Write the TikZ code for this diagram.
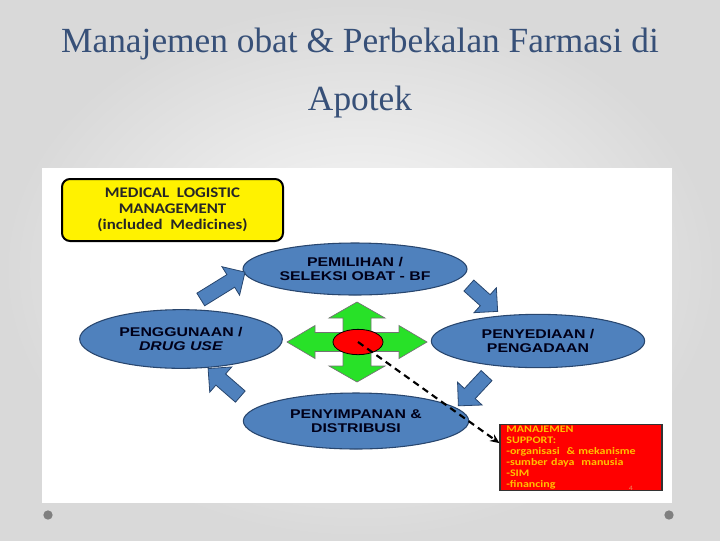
\documentclass[tikz,border=0pt]{standalone}
\usepackage{fontspec}
\setmainfont{Liberation Serif}
\newfontfamily\stagefont{Liberation Sans}[FakeStretch=1.25]
\newfontfamily\boxfont{Carlito}[FakeStretch=1.15]
\newfontfamily\notefont{Carlito}[FakeStretch=1.2]
\usepackage{xcolor}
\usetikzlibrary{positioning,arrows.meta,shapes.geometric,shapes.arrows}

\definecolor{titleblue}{RGB}{55,80,120}
\definecolor{stageblue}{RGB}{79,129,189}
\definecolor{stageline}{RGB}{40,70,110}
\definecolor{crossgreen}{RGB}{40,225,40}
\definecolor{supportgold}{RGB}{255,192,0}

\begin{document}
\begin{tikzpicture}[x=0.75pt, y=-0.75pt, >=Stealth,
    stage/.style={ellipse, draw=stageline, line width=0.8pt, fill=stageblue, inner sep=0pt,
      align=center, text=black!90!blue, font=\stagefont\bfseries\fontsize{9.5}{10.5}\selectfont},
    blockarr/.style={single arrow, draw=stageline, line width=0.6pt, fill=stageblue,
      inner sep=5.25pt, single arrow head extend=7pt}]

    % slide background
    \shade[inner color=black!2, outer color=black!15] (0,0) rectangle (720,540);
    \fill[white] (42,168) rectangle (672,503);
    \fill[black!50] (48,515) circle[radius=3.5pt] (669,515) circle[radius=3.5pt];

    \node[text=titleblue, align=center, font=\fontsize{26.5}{43.5}\selectfont] (title) at (360,72.5)
        {Manajemen obat \& Perbekalan Farmasi di\\Apotek};

    \node[draw=black, line width=1.5pt, rounded corners=6pt, fill=yellow, text=black!85,
        minimum width=165.75pt, minimum height=46.5pt, align=center,
        font=\boxfont\bfseries\fontsize{11}{12.2}\selectfont] (mlm) at (172.5,210)
        {MEDICAL\ \ LOGISTIC\\MANAGEMENT\\(included\ \ Medicines)};

    % cycle of stages
    \node[stage, minimum width=168pt, minimum height=39pt] (sel) at (355,269) {PEMILIHAN /\\SELEKSI OBAT - BF};
    \node[stage, minimum width=152pt, minimum height=44pt] (use) at (181,339) {PENGGUNAAN /\\\textit{DRUG USE}};
    \node[stage, minimum width=160pt, minimum height=40pt] (sup) at (538,341) {PENYEDIAAN /\\PENGADAAN};
    \node[stage, minimum width=169pt, minimum height=42pt] (sto) at (356,421) {PENYIMPANAN \&\\DISTRIBUSI};

    \node[blockarr, minimum height=39pt, rotate=31.7] (a1) at (219.75,287.75) {};
    \node[blockarr, minimum height=29pt, rotate=-41.9] (a2) at (480.5,296) {};
    \node[blockarr, minimum height=31pt, rotate=-133] (a3) at (475,388) {};
    \node[blockarr, minimum height=32pt, rotate=139] (a4) at (227,385) {};

    % centre cross
    \filldraw[fill=crossgreen, draw=black!55, line width=0.5pt, shift={(357,342)}]
        (0,-40) -- (28,-24) -- (14,-24) -- (14,-9.5) -- (42,-9.5) -- (42,-16.5) -- (70,0)
        -- (42,16.5) -- (42,9.5) -- (14,9.5) -- (14,24) -- (28,24) -- (0,40)
        -- (-28,24) -- (-14,24) -- (-14,9.5) -- (-42,9.5) -- (-42,16.5) -- (-70,0)
        -- (-42,-16.5) -- (-42,-9.5) -- (-14,-9.5) -- (-14,-24) -- (-28,-24) -- cycle;
    \node[ellipse, draw=black, line width=0.6pt, fill=red, minimum width=37.5pt,
        minimum height=19pt, inner sep=0pt] (hub) at (358,342) {};

    \node[draw=black!80, line width=0.8pt, fill=red, minimum width=121.5pt, minimum height=50pt,
        text width=112pt, inner xsep=4.5pt, inner ysep=1pt, align=left, text=supportgold,
        font=\notefont\bfseries\fontsize{7.5}{8.25}\selectfont] (supp) at (581,457.5)
        {MANAJEMEN\\SUPPORT:\\-organisasi\ \ \& mekanisme\\-sumber daya\ \ manusia\\-SIM\\-financing};
    \node[text={rgb,255:red,240;green,130;blue,90}, font=\notefont\fontsize{5}{5}\selectfont,
        inner sep=0pt] (pgno) at (631,488) {4};

    \draw[-{Stealth[length=7pt, width=6pt]}, line width=1.6pt, dash pattern=on 5pt off 3.5pt]
        (hub.center) -- (supp.170);
\end{tikzpicture}
\end{document}
